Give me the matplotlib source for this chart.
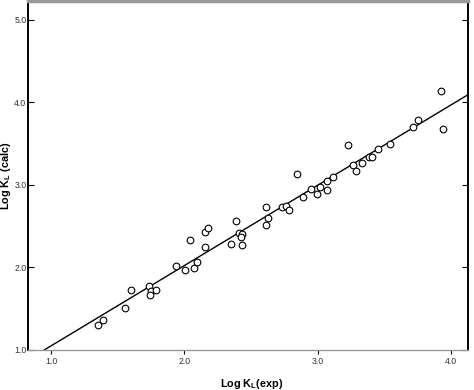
import numpy as np
import matplotlib.pyplot as plt

plt.rcParams['font.family'] = ['Liberation Sans', 'DejaVu Sans']
plt.rcParams['mathtext.default'] = 'regular'

log_k_exp = [1.355, 1.389, 1.555, 1.598, 1.735, 1.746, 1.745, 1.788,
             1.934, 2.007, 2.069, 2.091, 2.039, 2.155, 2.155, 2.178,
             2.349, 2.384, 2.409, 2.433, 2.425, 2.430, 2.609, 2.630,
             2.611, 2.730, 2.765, 2.784, 2.847, 2.888, 2.946, 2.997,
             3.018, 3.069, 3.070, 3.111, 3.230, 3.267, 3.288, 3.333,
             3.384, 3.405, 3.450, 3.539, 3.714, 3.754, 3.925, 3.941]
log_k_calc = [1.303, 1.366, 1.505, 1.729, 1.768, 1.711, 1.659, 1.723,
              2.014, 1.965, 1.987, 2.058, 2.333, 2.248, 2.422, 2.472,
              2.277, 2.563, 2.420, 2.405, 2.368, 2.272, 2.725, 2.598,
              2.508, 2.735, 2.742, 2.695, 3.126, 2.846, 2.950, 2.884,
              2.973, 3.047, 2.941, 3.096, 3.480, 3.237, 3.162, 3.268,
              3.332, 3.334, 3.437, 3.488, 3.694, 3.783, 4.130, 3.670]

x_ticks = [1.0, 2.0, 3.0, 4.0]
y_ticks = [1.0, 2.0, 3.0, 4.0, 5.0]

fig = plt.figure(figsize=(4.74, 3.90), dpi=100)
ax = fig.add_axes([0.060, 0.1033, 0.927, 0.893])

# least squares line
slope, intercept = np.polyfit(log_k_exp, log_k_calc, 1)
xlim = (0.83, 4.125)
xs = np.array(xlim)
ax.plot(xs, intercept + slope * xs, color='black', lw=1.0)

ax.plot(log_k_exp, log_k_calc, 'o', mfc='white', mec='black',
        ms=4.8, mew=0.8, ls='none')

ax.set_xlim(*xlim)
ax.set_ylim(1.0, 5.22)
ax.set_xticks(x_ticks)
ax.set_xticklabels([f"{v:.1f}" for v in x_ticks])
ax.set_yticks(y_ticks)
ax.set_yticklabels([f"{v:.1f}" for v in y_ticks])

ax.tick_params(axis='x', direction='out', length=3, width=0.8, labelsize=6.3,
               pad=2, labelcolor='#333333')
ax.tick_params(axis='y', direction='in', length=4, width=0.8, labelsize=6.3,
               pad=1.5, right=True, labelcolor='#333333')

for side in ['left', 'right']:
    ax.spines[side].set_linewidth(1.4)
    ax.spines[side].set_color('black')
ax.spines['bottom'].set_color('#999999')
ax.spines['bottom'].set_linewidth(1.0)
ax.spines['top'].set_color('#999999')
ax.spines['top'].set_linewidth(2.5)

ax.set_xlabel(r"Log K$_{L}$(exp)", fontsize=7.8, fontweight='bold')
ax.set_ylabel(r"Log K$_{L}$ (calc)", fontsize=7.8, fontweight='bold')
ax.xaxis.set_label_coords(0.508, -0.077)
ax.yaxis.set_label_coords(-0.035, 0.5)

fig.savefig('out.png', dpi=100)
